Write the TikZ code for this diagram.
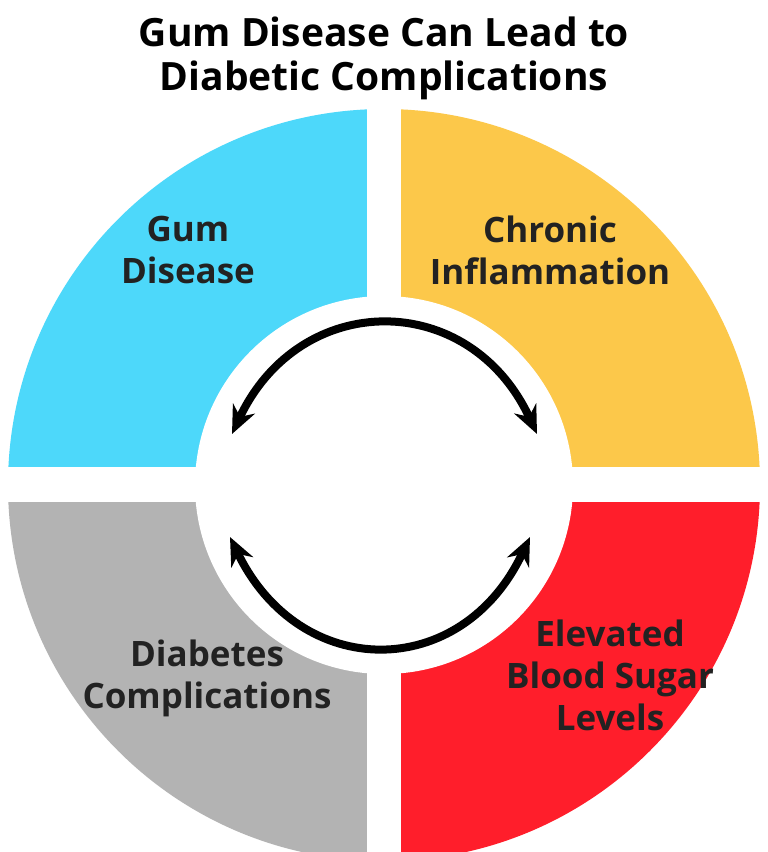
\documentclass[tikz,border=0pt]{standalone}
\usepackage{fontspec}
\setmainfont{Open Sans}
\usetikzlibrary{arrows.meta}
\definecolor{gumblue}{HTML}{4DD8FA}
\definecolor{inflyellow}{HTML}{FCC84A}
\definecolor{compgray}{HTML}{B3B3B3}
\definecolor{sugarred}{HTML}{FF1E2B}
\definecolor{labeltext}{HTML}{222222}
\tikzset{
  label/.style={align=center, font=\bfseries\fontsize{35}{42}\selectfont, text=labeltext},
  cycle/.style={line width=8pt, {Stealth[length=28pt,width=24pt]}-{Stealth[length=28pt,width=24pt]}}
}
\begin{document}
\begin{tikzpicture}[x=1pt, y=-1pt]
    \clip (0,0) rectangle (768,852);
    \fill[white] (0,0) rectangle (768,852);

    % Quadrants of the ring
    \fill[compgray] (384,485) ++(180:376) arc[start angle=180, end angle=90, radius=376] -- (384,485) -- cycle;
    \fill[sugarred] (384,485) ++(90:376) arc[start angle=90, end angle=0, radius=376] -- (384,485) -- cycle;
    \fill[inflyellow] (384,485) ++(0:376) arc[start angle=0, end angle=-90, radius=376] -- (384,485) -- cycle;
    \fill[gumblue] (384,485) ++(-90:376) arc[start angle=-90, end angle=-180, radius=376] -- (384,485) -- cycle;

    % Gaps and centre
    \fill[white] (367,0) rectangle (401,852);
    \fill[white] (0,467) rectangle (768,502);
    \fill[white] (384,485) circle[radius=189];

    % Title
    \node[label, font=\bfseries\fontsize{39}{44}\selectfont, text=black] (title) at (384,58) {Gum Disease Can Lead to\\Diabetic Complications};

    % Labels
    \node[label] (gum) at (188,250) {Gum\\Disease};
    \node[label] (chronic) at (550,250) {Chronic\\Inflammation};
    \node[label] (complications) at (207,678) {Diabetes\\Complications};
    \node[label] (sugar) at (610,675) {Elevated\\Blood Sugar\\Levels};

    % Arrows
    \coordinate (topleft) at (232,434);
    \coordinate (topright) at (537,434);
    \coordinate (botleft) at (230,537);
    \coordinate (botright) at (530,537);
    \draw[cycle] (topleft) .. controls (300,289) and (470,289) .. (topright);
    \draw[cycle] (botleft) .. controls (300,682) and (462,682) .. (botright);
\end{tikzpicture}
\end{document}
